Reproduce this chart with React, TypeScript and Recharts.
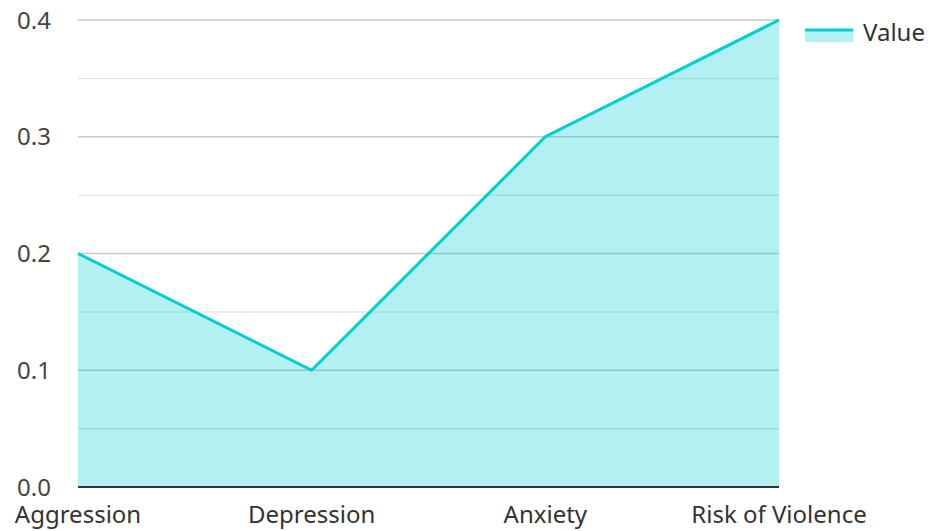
import React from "react";
import { AreaChart, Area, XAxis, YAxis, CartesianGrid } from "recharts";

const categories = ["Aggression", "Depression", "Anxiety", "Risk of Violence"];
const values = [0.2, 0.1, 0.3, 0.4];
const majorTicks = [0, 0.1, 0.2, 0.3, 0.4];
const minorTicks = [0.05, 0.15, 0.25, 0.35];
const seriesName = "Value";

const data = categories.map((c, i) => ({ name: c, value: values[i] }));

const FONT = "'Noto Sans', 'Open Sans', sans-serif";
const COLOR = "#00CED1";

const LegendBox = () => (
  <div
    style={{
      position: "absolute",
      left: 804,
      top: 17,
      display: "flex",
      alignItems: "center",
      fontFamily: FONT,
      fontSize: 24,
      color: "#333",
      lineHeight: "30px",
    }}
  >
    <svg width={50} height={16} style={{ marginRight: 9, marginTop: 6 }}>
      <rect x={1} y={3} width={48} height={12} fill={COLOR} fillOpacity={0.3} />
      <line x1={1} y1={3} x2={49} y2={3} stroke={COLOR} strokeWidth={3} />
    </svg>
    <span>{seriesName}</span>
  </div>
);

export default function App() {
  return (
    <div style={{ position: "fixed", left: 0, top: 0, width: 929, height: 531, background: "#fff" }}>
      <AreaChart width={929} height={531} data={data} margin={{ top: 20, right: 150, bottom: 0, left: 18 }}>
        <CartesianGrid horizontal vertical={false} horizontalValues={minorTicks} stroke="#e6e6e6" strokeWidth={1.5} syncWithTicks={false} />
        <CartesianGrid horizontal vertical={false} horizontalValues={majorTicks} stroke="#c8c8c8" strokeWidth={1.5} syncWithTicks={false} />
        <XAxis
          dataKey="name"
          interval={0}
          height={44}
          tickLine={false}
          tickSize={0}
          tickMargin={19}
          axisLine={{ stroke: "#333", strokeWidth: 2 }}
          tick={{ fill: "#333", fontSize: 24, fontFamily: FONT }}
        />
        <YAxis
          domain={[0, 0.4]}
          ticks={majorTicks}
          width={60}
          axisLine={false}
          tickLine={false}
          tickSize={0}
          tickMargin={27}
          tickFormatter={(v: number) => v.toFixed(1)}
          tick={{ fill: "#444", fontSize: 24, fontFamily: FONT }}
        />
        <Area
          type="linear"
          dataKey="value"
          name={seriesName}
          stroke={COLOR}
          strokeWidth={3}
          fill={COLOR}
          fillOpacity={0.3}
          isAnimationActive={false}
          dot={false}
          activeDot={false}
        />
      </AreaChart>
      <LegendBox />
    </div>
  );
}
